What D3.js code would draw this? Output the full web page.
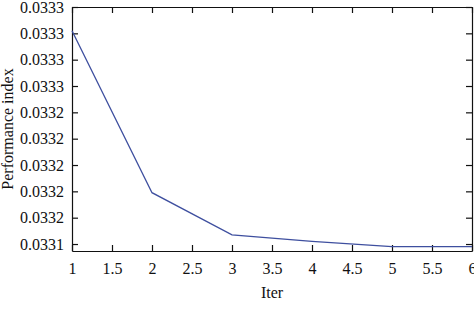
<!DOCTYPE html>
<html lang="en">
<head>
<meta charset="UTF-8">
<script src="https://d3js.org/d3.v7.min.js"></script>
<title>Performance index</title>
<style>
  body { margin: 0; background: #fff; }
  text { font-family: "Liberation Serif", "DejaVu Serif", serif; }
</style>
</head>
<body>
<div id="chart"></div>
<script>
// data
const iters = [1, 2, 3, 4, 5, 6];
const perfIndex = [0.033302, 0.033179, 0.033147, 0.033142, 0.033138, 0.033138];
const xTicks = [1, 1.5, 2, 2.5, 3, 3.5, 4, 4.5, 5, 5.5, 6];
const yTicks = [0.03314, 0.03316, 0.03318, 0.03320, 0.03322, 0.03324, 0.03326, 0.03328, 0.03330, 0.03332];

const width = 474, height = 321;
const margin = { top: 7, right: 2, bottom: 70, left: 72 };

const svg = d3.select("#chart").append("svg")
    .attr("width", width)
    .attr("height", height);

const x = d3.scaleLinear()
    .domain([1, 6])
    .range([margin.left, width - margin.right]);

const y = d3.scaleLinear()
    .domain([0.0331347, 0.03332])
    .range([height - margin.bottom, margin.top]);

const fmt = d3.format(".4f");
const tickLen = 6;

// bottom axis
svg.append("g")
    .attr("transform", `translate(0,${height - margin.bottom})`)
    .call(d3.axisBottom(x).tickValues(xTicks).tickSizeInner(-tickLen).tickSizeOuter(0).tickPadding(12).tickFormat(d3.format("")))
    .call(g => g.selectAll("text").attr("font-size", "16px").attr("fill", "#111").style("font-family", "Liberation Serif"));

// top axis (ticks only)
svg.append("g")
    .attr("transform", `translate(0,${margin.top})`)
    .call(d3.axisTop(x).tickValues(xTicks).tickSizeInner(-tickLen).tickSizeOuter(0).tickFormat(""));

// left axis
svg.append("g")
    .attr("transform", `translate(${margin.left},0)`)
    .call(d3.axisLeft(y).tickValues(yTicks).tickSizeInner(-tickLen).tickSizeOuter(0).tickPadding(8).tickFormat(fmt))
    .call(g => g.selectAll("text").attr("font-size", "16px").attr("fill", "#111").style("font-family", "Liberation Serif"));

// right axis (ticks only)
svg.append("g")
    .attr("transform", `translate(${width - margin.right},0)`)
    .call(d3.axisRight(y).tickValues(yTicks).tickSizeInner(-tickLen).tickSizeOuter(0).tickFormat(""));

svg.selectAll(".domain").attr("stroke", "#111").attr("stroke-width", 1.2);
svg.selectAll(".tick line").attr("stroke", "#111").attr("stroke-width", 1.2);

// data line
svg.append("path")
    .datum(iters.map((d, i) => [d, perfIndex[i]]))
    .attr("fill", "none")
    .attr("stroke", "#3e4f9f")
    .attr("stroke-width", 1.3)
    .attr("d", d3.line().x(d => x(d[0])).y(d => y(d[1])));

// axis titles
svg.append("text")
    .attr("x", (margin.left + width - margin.right) / 2)
    .attr("y", 298)
    .attr("text-anchor", "middle")
    .attr("font-size", "16px")
    .attr("fill", "#111")
    .text("Iter");

svg.append("text")
    .attr("transform", `translate(13,${(margin.top + height - margin.bottom) / 2}) rotate(-90)`)
    .attr("text-anchor", "middle")
    .attr("font-size", "16px")
    .attr("fill", "#111")
    .text("Performance index");
</script>
</body>
</html>
